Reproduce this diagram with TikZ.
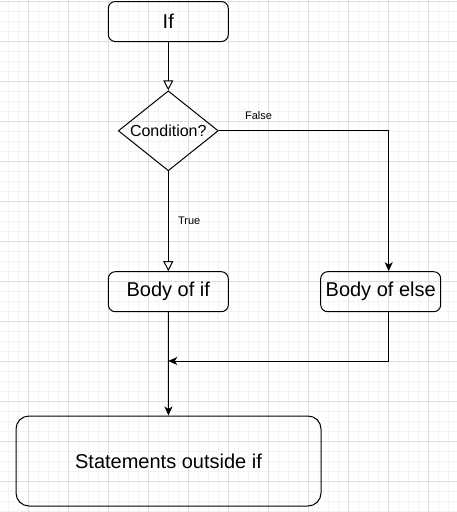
\documentclass[tikz,border=0pt]{standalone}
\usepackage{fontspec}
\setmainfont{Liberation Sans}
\usetikzlibrary{shapes,shapes.geometric,arrows.meta}

\definecolor{gridminor}{HTML}{F3F3F3}
\definecolor{gridmajor}{HTML}{DEDEDE}

\begin{document}
\begin{tikzpicture}[x=1pt,y=-1pt]
	\tikzstyle{every node}=[font=\fontsize{20}{24}\selectfont]
	\tikzstyle{block}=[draw, line width=1pt, rounded corners=7pt, minimum width=120pt, minimum height=40pt, inner sep=0pt]
	\tikzstyle{decision}=[draw, line width=1pt, diamond, aspect=1.25, minimum width=100pt, minimum height=80pt, inner sep=0pt, font=\fontsize{16}{19}\selectfont]
	\tikzstyle{flowopen}=[line width=1pt, -{Triangle[open, length=10pt, width=10pt]}]
	\tikzstyle{flow}=[line width=1pt, -{Stealth[length=9pt, width=8pt, inset=2.5pt]}]
	\tikzstyle{edgelabel}=[font=\fontsize{11}{13}\selectfont]

	%%grid background
	\useasboundingbox (0,0) rectangle (457,512);
	\fill [white] (0,0) rectangle (457,512);
	\foreach \x in {-2,8,...,458} \draw [gridminor, line width=1pt] (\x,0) -- (\x,512);
	\foreach \y in {1.5,11.5,...,512} \draw [gridminor, line width=1pt] (0,\y) -- (457,\y);
	\foreach \x in {28,68,...,428} \draw [gridmajor, line width=1pt] (\x,0) -- (\x,512);
	\foreach \y in {1.5,41.5,...,482} \draw [gridmajor, line width=1pt] (0,\y) -- (457,\y);

	%%nodes
	\node [block]  (start) at (168.3,21.5)  {If};
	\node [decision]  (cond) at (168.3,130.8)  {Condition?};
	\node [block]  (bodyif) at (168.3,291.7)  {Body of if};
	\node [block]  (bodyelse) at (380.7,291.7)  {Body of else};
	\node [block, minimum width=305pt, minimum height=90pt, rounded corners=13pt]  (after) at (168.5,461)  {Statements outside if};
	\coordinate (merge) at (168.3,361);

	%%connectors
	\draw [flowopen]  (start) -- (cond);
	\draw [flowopen]  (cond) -- node [edgelabel, right, xshift=6pt] {True} (bodyif);
	\draw [flow]  (cond.east) -| node [edgelabel, pos=0.117, above, yshift=7pt] {False} ([xshift=8pt]bodyelse.north);
	\draw [flow]  ([xshift=8pt]bodyelse.south) |- (merge);
	\draw [flow]  (bodyif) -- (after);

\end{tikzpicture}
\end{document}
